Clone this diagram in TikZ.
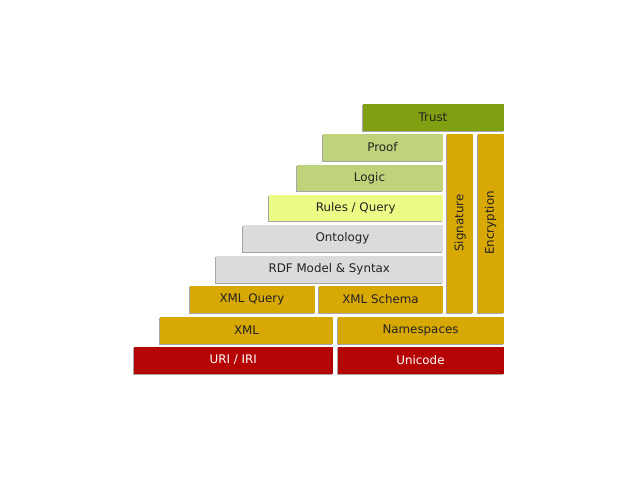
\documentclass[tikz,border=0pt]{standalone}
\usepackage{fontspec}
\setmainfont{DejaVu Sans}
\usetikzlibrary{shadows}
\definecolor{trustc}{HTML}{80A012}
\definecolor{lgreen}{HTML}{BFD47A}
\definecolor{lyellow}{HTML}{EBFB86}
\definecolor{grayc}{HTML}{DBDBDB}
\definecolor{goldc}{HTML}{D8A804}
\definecolor{redc}{HTML}{B40404}
\definecolor{txt}{HTML}{222222}
\tikzset{
  layer/.style={inner sep=0pt, font=\fontsize{8.9}{10}\selectfont, text=txt,
    drop shadow={shadow xshift=-0.6pt, shadow yshift=-0.8pt, fill=black, opacity=0.35}},
}
\newcommand{\lbox}[7]{% name, x1,y1,x2,y2, color, text
  \path[layer, fill=#6] (#2,#3) rectangle (#4,#5);
  \node[inner sep=0pt, font=\fontsize{8.9}{10}\selectfont, text=txt] (#1) at ({(#2+#4)/2},{(#3+#5)/2}) {#7};
}
\begin{document}
\begin{tikzpicture}[x=0.75pt,y=-0.75pt]
\useasboundingbox[fill=white] (0,0) rectangle (638,478);
\lbox{trust}{362.5}{104}{503.5}{130.5}{trustc}{Trust}
\lbox{proof}{322.5}{133.5}{442.5}{160.5}{lgreen}{Proof}
\lbox{logic}{296.5}{165}{442.5}{190.5}{lgreen}{Logic}
\lbox{rules}{269}{195}{442.5}{220.5}{lyellow}{Rules / Query}
\lbox{onto}{242.5}{225}{442.5}{251.5}{grayc}{Ontology}
\lbox{rdf}{216}{256}{442.5}{282.5}{grayc}{RDF Model \& Syntax}
\lbox{xmlq}{189.5}{286}{314.5}{312.5}{goldc}{XML Query}
\lbox{xmls}{318.5}{286}{442.5}{312.5}{goldc}{XML Schema}
\lbox{xml}{160}{316.5}{333}{343.5}{goldc}{XML}
\lbox{ns}{337.5}{316.5}{503.5}{343.5}{goldc}{Namespaces}
\path[layer, fill=redc] (134,346.5) rectangle (332.5,373.5);
\node[inner sep=0pt, font=\fontsize{8.9}{10}\selectfont, text=white] (uri) at (233.25,360) {URI / IRI};
\path[layer, fill=redc] (337.5,346.5) rectangle (503.5,373.5);
\node[inner sep=0pt, font=\fontsize{8.9}{10}\selectfont, text=white] (uni) at (420.5,360) {Unicode};
\path[layer, fill=goldc] (447,133.5) rectangle (473,312.5);
\node[inner sep=0pt, font=\fontsize{8.9}{10}\selectfont, text=txt, rotate=90] (sig) at (460,223) {Signature};
\path[layer, fill=goldc] (477.5,133.5) rectangle (503.5,312.5);
\node[inner sep=0pt, font=\fontsize{8.9}{10}\selectfont, text=txt, rotate=90] (enc) at (490.5,223) {Encryption};
\end{tikzpicture}
\end{document}
